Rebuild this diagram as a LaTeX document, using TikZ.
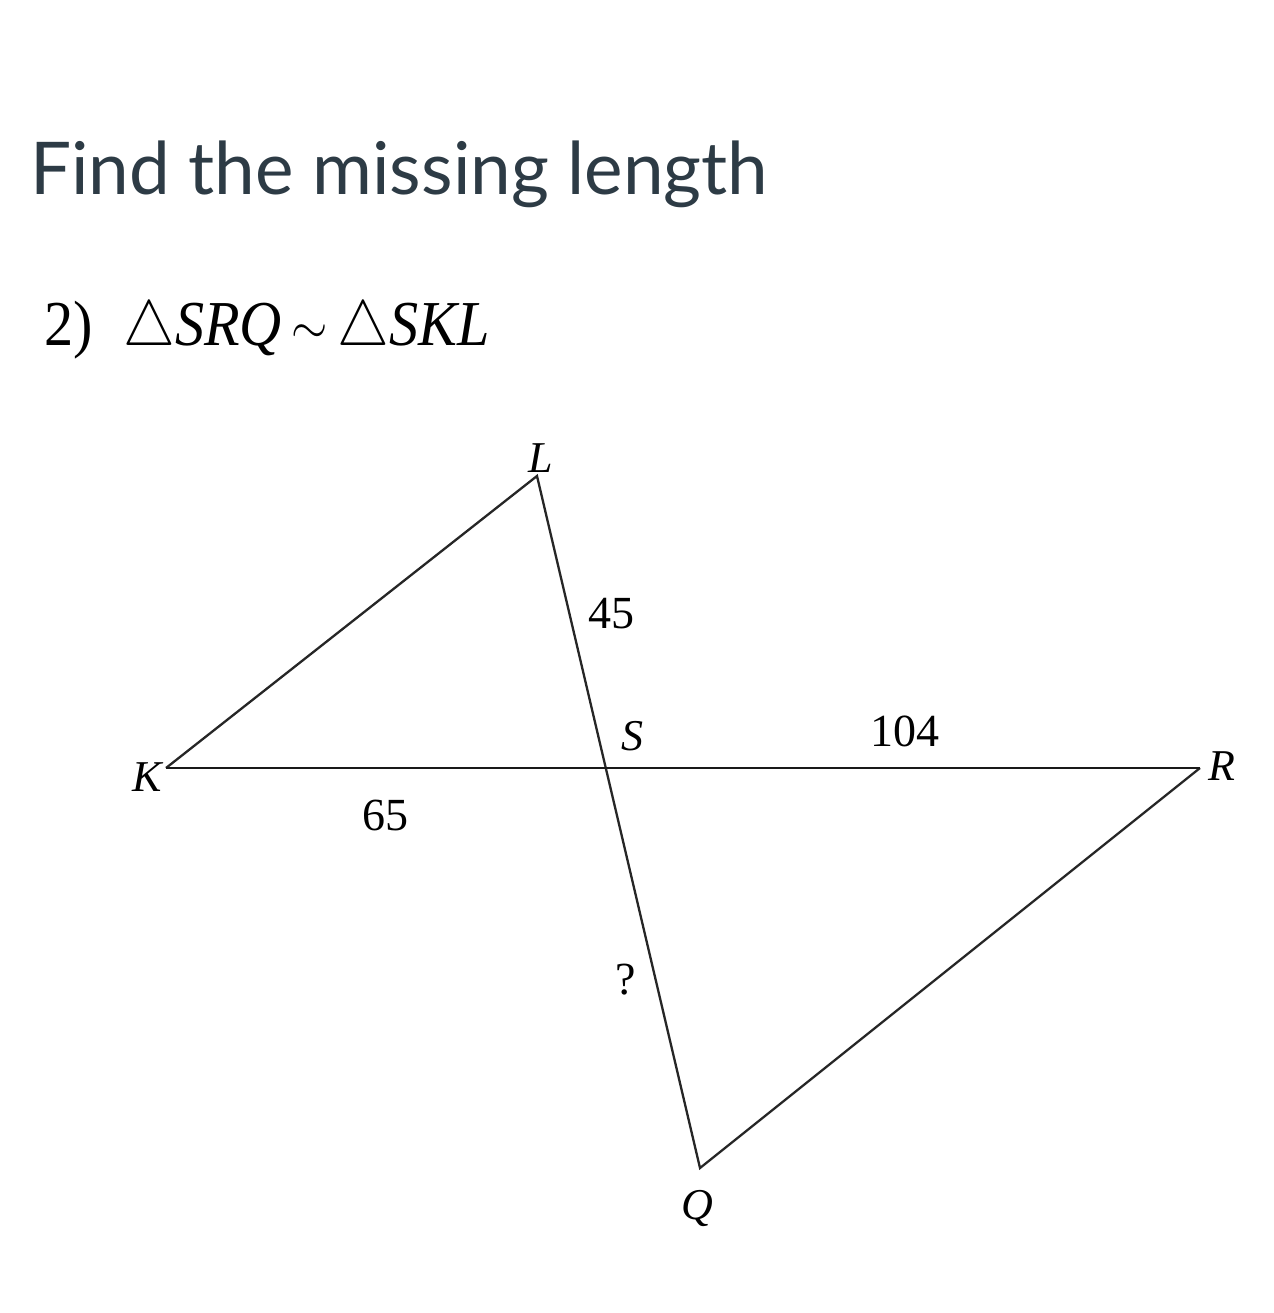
\RequirePackage{fix-cm}
\documentclass[tikz,border=0pt]{standalone}
\usepackage{fontspec}
\setmainfont{Liberation Serif}
\newfontfamily\latofont{Lato}
\begin{document}
\begin{tikzpicture}[x=1pt,y=-1pt,
  edge/.style={line width=2.3pt,black!85,line join=miter},
  base/.style={line width=2.9pt,black!90},
  vlabel/.style={inner sep=0pt,font=\fontsize{44}{48}\selectfont\itshape},
  numlabel/.style={inner sep=0pt,font=\fontsize{46}{50}\selectfont}]
\useasboundingbox[fill=white] (0,0) rectangle (1273,1313);
\node[anchor=base west,inner sep=0pt,font=\latofont\fontsize{72.8}{80}\selectfont,text={rgb,255:red,45;green,59;blue,69}] (title) at (30,195) {Find the missing length};
\node[anchor=base west,inner sep=0pt,font=\fontsize{64}{70}\selectfont] (given) at (44,345) {\scalebox{0.91}[1]{2)\; $\triangle$\textit{SRQ}\,\raisebox{0.02em}{\scalebox{0.8}{$\sim$}}\,$\triangle$\textit{SKL}}};
\coordinate (L) at (537,476);
\coordinate (K) at (166,768);
\coordinate (S) at (605.8,768);
\coordinate (R) at (1200,768);
\coordinate (Q) at (700,1168);
\draw[edge] (K) -- (L) -- (Q) -- (R);
\draw[base] (K) -- (R);
\node[vlabel] (Llab) at (541,458) {L};
\node[vlabel] (Klab) at (147,777) {K};
\node[vlabel] (Slab) at (632,736) {S};
\node[vlabel] (Rlab) at (1222,766) {R};
\node[vlabel] (Qlab) at (697,1208) {Q};
\node[numlabel] (n45) at (611,614) {45};
\node[numlabel] (n104) at (905,731) {104};
\node[numlabel] (n65) at (385,815) {65};
\node[numlabel] (nq) at (626,980) {?};
\end{tikzpicture}
\end{document}
